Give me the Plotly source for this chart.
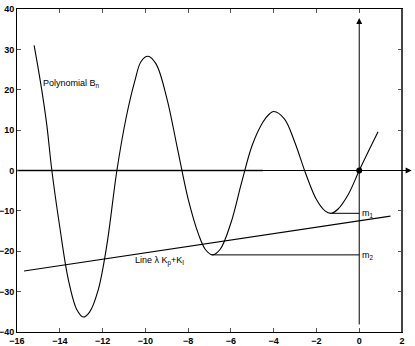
import plotly.graph_objects as go

# Polynomial B_n
poly_x = [-15.2, -15.0, -14.8, -14.6, -14.37, -14.0, -13.6, -13.2, -12.9, -12.6, -12.2, -11.8,
          -11.33, -10.9, -10.5, -10.2, -9.88, -9.5, -9.0, -8.5, -8.0, -7.5, -7.2, -6.87,
          -6.5, -6.0, -5.5, -5.0, -4.5, -4.2, -4.0, -3.5, -3.0, -2.5, -2.0, -1.6, -1.3,
          -1.0, -0.5, 0.0, 0.5, 0.88]
poly_y = [31, 25, 18.5, 11, 0, -14, -27, -34.5, -36.3, -35, -29.5, -18.5,
          0, 13, 22, 27, 28.3, 26.4, 18.0, 5.5, -7.0, -16.0, -19.5, -20.9,
          -19.5, -13.0, -3.0, 6.3, 12.0, 14.0, 14.6, 12.8, 6.8, -0.8, -7.2, -10.0, -10.6,
          -9.6, -5.8, 0, 5.5, 9.6]

# Line lambda Kp + Ki
line_x = [-15.67, 1.46]
line_y = [-24.9, -11.3]

# m1 and m2 levels
m1_x = [-1.3, 0]
m1_y = [-10.6, -10.6]
m2_x = [-6.87, 0]
m2_y = [-20.9, -20.9]

x_ticks = [-16, -14, -12, -10, -8, -6, -4, -2, 0, 2]
y_ticks = [-40, -30, -20, -10, 0, 10, 20, 30, 40]

black = "#000000"
fig = go.Figure()

fig.add_trace(go.Scatter(x=poly_x, y=poly_y, mode="lines",
                         line=dict(color=black, width=1.1, shape="spline", smoothing=1.0)))
fig.add_trace(go.Scatter(x=line_x, y=line_y, mode="lines", line=dict(color=black, width=1.1)))
fig.add_trace(go.Scatter(x=m1_x, y=m1_y, mode="lines", line=dict(color=black, width=1)))
fig.add_trace(go.Scatter(x=m2_x, y=m2_y, mode="lines", line=dict(color=black, width=1)))
# darker part of zero line
fig.add_trace(go.Scatter(x=[-16, -4.5], y=[0, 0], mode="lines", line=dict(color="#222", width=1.3)))
fig.add_trace(go.Scatter(x=[0], y=[0], mode="markers", marker=dict(color=black, size=6)))

font = dict(family="Liberation Sans, Arial, sans-serif", size=9, color=black)

annotations = [
    # horizontal axis arrow
    dict(x=2.45, y=0, ax=-16, ay=0, xref="x", yref="y", axref="x", ayref="y",
         text="", showarrow=True, arrowhead=2, arrowsize=1.2, arrowwidth=1, arrowcolor=black),
    # vertical axis arrow
    dict(x=0, y=37.8, ax=0, ay=-38.5, xref="x", yref="y", axref="x", ayref="y",
         text="", showarrow=True, arrowhead=2, arrowsize=1.2, arrowwidth=1, arrowcolor=black),
    dict(x=-14.9, y=21.5, xref="x", yref="y", text="Polynomial B<sub>n</sub>", showarrow=False,
         xanchor="left", yanchor="middle", font=font),
    dict(x=-10.6, y=-22.5, xref="x", yref="y", text="Line λ K<sub>p</sub>+K<sub>I</sub>", showarrow=False,
         xanchor="left", yanchor="middle", font=font),
    dict(x=0.05, y=-10.6, xref="x", yref="y", text="m<sub>1</sub>", showarrow=False,
         xanchor="left", yanchor="middle", font=font),
    dict(x=0.05, y=-21.0, xref="x", yref="y", text="m<sub>2</sub>", showarrow=False,
         xanchor="left", yanchor="middle", font=font),
]

axis_common = dict(showgrid=False, zeroline=False, showline=True, linecolor=black, linewidth=1,
                   mirror="ticks", ticks="inside", ticklen=4, tickcolor="#555", tickwidth=1,
                   automargin=False,
                   tickfont=dict(family="Liberation Sans, Arial, sans-serif", size=9, color=black,
                                 weight="bold"))

fig.update_layout(
    width=415, height=346,
    margin=dict(l=17, r=13, t=9, b=14),
    paper_bgcolor="white", plot_bgcolor="white",
    showlegend=False,
    annotations=annotations,
    shapes=[dict(type="line", xref="paper", yref="paper", x0=1, x1=1, y0=0, y1=1,
                 line=dict(color="#444", width=2))],
    xaxis=dict(range=[-16, 2], tickvals=x_ticks, ticklabelstandoff=0, **axis_common),
    yaxis=dict(range=[-40, 40], tickvals=y_ticks, ticklabelstandoff=0, **axis_common),
)

fig.write_html("out.html")
